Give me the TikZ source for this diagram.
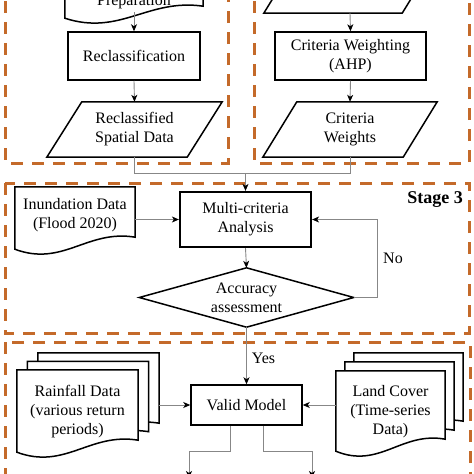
\documentclass[tikz,border=0pt]{standalone}
\usepackage{fontspec}
\setmainfont{Liberation Serif}
\usetikzlibrary{arrows.meta,calc}
\definecolor{stageor}{RGB}{196,106,42}
\definecolor{conngray}{RGB}{135,135,135}
\tikzset{
  txt/.style={font=\fontsize{16}{19}\selectfont, align=center, inner sep=0pt},
  procbox/.style={txt, draw=black, line width=1.5pt},
  shapeline/.style={draw=black, line width=1.5pt, fill=white, line join=miter},
  stagebox/.style={draw=stageor, line width=3pt, dash pattern=on 12pt off 9pt},
  conn/.style={draw=conngray, line width=0.9pt},
  arr/.style={conn, -{Stealth[length=7pt,width=6pt,inset=2pt,color=black]}},
}
\newcommand\docdraw[1]{\draw[shapeline] (#1.north west) -- (#1.north east) -- ($(#1.south east)+(0,-6)$) .. controls ($(#1.south west)!0.6!(#1.south east)+(0,-14)$) and ($(#1.south west)!0.4!(#1.south east)+(0,24)$) .. ($(#1.south west)+(0,6)$) -- cycle;}
\newcommand\paradraw[2]{\draw[shapeline] ($(#1.north west)+(#2,0)$) -- (#1.north east) -- ($(#1.south east)+(-#2,0)$) -- (#1.south west) -- cycle;}
\begin{document}
\begin{tikzpicture}[x=1pt,y=-1pt]
\useasboundingbox (0,0) rectangle (474,474);
\clip (0,0) rectangle (474,474);
% stage frames
\draw[stagebox] (5,-20) rectangle (228,163);
\draw[stagebox] (254,-20) rectangle (469,163);
\draw[stagebox] (5,183) rectangle (469,333);
\draw[stagebox] (5,342) rectangle (470,485);
% nodes (text holders)
\node[txt, minimum width=138pt, minimum height=72pt] (prep3) at (154,-40) {};
\node[txt, minimum width=138pt, minimum height=72pt] (prep2) at (144,-32) {};
\node[txt, minimum width=138pt, minimum height=72pt] (prep) at (134,-24) {};
\docdraw{prep3}
\docdraw{prep2}
\docdraw{prep}
\node[txt, anchor=base] (preplbl) at (134,5) {Preparation};
\node[procbox, minimum width=132pt, minimum height=48pt] (recl) at (134,56) {Reclassification};
\node[txt, minimum width=175pt, minimum height=55pt] (rsd) at (134.5,129.5) {};
\paradraw{rsd}{35}
\node[txt] at (rsd.center) {Reclassified\\Spatial Data};
\node[txt, minimum width=172pt, minimum height=55pt] (topr) at (350,-14.5) {};
\paradraw{topr}{34}
\node[procbox, minimum width=151pt, minimum height=48pt] (cw) at (350.5,56) {Criteria Weighting\\(AHP)};
\node[txt, minimum width=174pt, minimum height=55pt] (cwt) at (350,129.5) {};
\paradraw{cwt}{34}
\node[txt] at (cwt.center) {Criteria\\Weights};
\node[procbox, line width=2.2pt, minimum width=131pt, minimum height=55pt] (mca) at (245.5,219.5) {Multi-criteria\\Analysis};
\node[txt, minimum width=120pt, minimum height=56pt] (inund) at (75,215) {};
\docdraw{inund}
\node[txt] at (inund.center) {Inundation Data\\(Flood 2020)};
\node[txt, minimum width=214pt, minimum height=59pt] (acc) at (246.5,297.5) {};
\draw[shapeline] (acc.north) -- (acc.east) -- (acc.south) -- (acc.west) -- cycle;
\node[txt] at (acc.center) {Accuracy\\assessment};
\node[txt, anchor=east, font=\bfseries\fontsize{18}{20}\selectfont] (st3) at (463,200) {Stage 3};
\node[procbox, minimum width=111pt, minimum height=40pt] (vm) at (246.5,405) {Valid Model};
\node[txt, minimum width=121pt, minimum height=76pt] (rain3) at (98.5,391) {};
\node[txt, minimum width=121pt, minimum height=76pt] (rain2) at (88,399.5) {};
\node[txt, minimum width=121pt, minimum height=76pt] (rain) at (77.5,408) {};
\docdraw{rain3}
\docdraw{rain2}
\docdraw{rain}
\node[txt] at ($(rain.center)+(0,4)$) {Rainfall Data\\(various return\\periods)};
\node[txt, minimum width=109pt, minimum height=74pt] (land3) at (408.5,390) {};
\node[txt, minimum width=109pt, minimum height=74pt] (land2) at (399.5,399) {};
\node[txt, minimum width=109pt, minimum height=74pt] (land) at (390.5,408) {};
\docdraw{land3}
\docdraw{land2}
\docdraw{land}
\node[txt] at ($(land.center)+(0,4)$) {Land Cover\\(Time-series\\Data)};
\node[txt] (yes) at (263.5,358) {Yes};
\node[txt] (no) at (393,258) {No};
\coordinate (jn) at (245.5,173);
\coordinate (outL) at (189,478);
\coordinate (outR) at (312,478);
% connectors
\draw[arr] (prep.south) -- (recl.north);
\draw[arr] (recl.south) -- (rsd.north);
\draw[arr] (topr.south) -- (cw.north);
\draw[arr] (cw.south) -- (cwt.north);
\draw[conn] (rsd.south) -- ++(0,16) -| (cwt.south);
\draw[arr] (jn) -- (mca.north);
\draw[arr] (inund.east |- mca.west) -- (mca.west);
\draw[arr] (mca.south) -- (acc.north);
\draw[arr] (acc.east) -- ++(24,0) |- (mca.east);
\draw[arr] (acc.south) -- (vm.north);
\draw[arr] (rain3.east |- vm.west) -- (vm.west);
\draw[arr] (land.west |- vm.east) -- (vm.east);
\draw[arr] ([xshift=-16.5pt]vm.south) -- ++(0,26) -| (outL);
\draw[arr] ([xshift=16.5pt]vm.south) -- ++(0,26) -| (outR);
\end{tikzpicture}
\end{document}
